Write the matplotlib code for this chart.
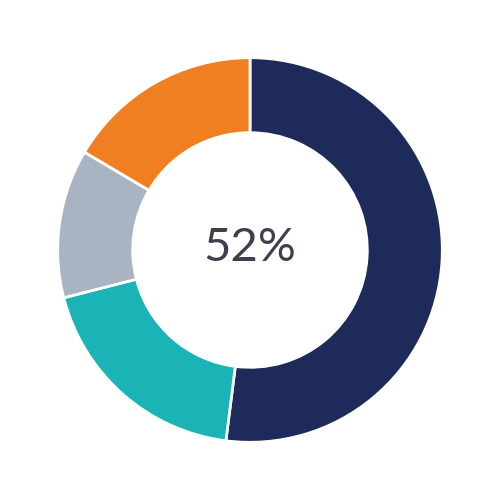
import matplotlib.pyplot as plt

shares = [52, 19, 12.5, 16.5]
colors = ['#1e2a5a', '#1ab4b6', '#a9b4c2', '#f07f22']
center_label = "52%"

fig = plt.figure(figsize=(5, 5), dpi=100)
ax = fig.add_axes([0, 0, 1, 1])
ax.pie(shares, colors=colors, startangle=90, counterclock=False,
       radius=1.0, wedgeprops=dict(width=0.39, edgecolor='white', linewidth=2))
ax.text(0, 0.01, center_label, ha='center', va='center', fontsize=34,
        family=['Lato', 'DejaVu Sans'], color='#3b404b')
ax.set_xlim(-1.3, 1.3)
ax.set_ylim(-1.3, 1.3)
ax.set_aspect('equal')
ax.axis('off')
fig.savefig('out.png', dpi=100, facecolor='white')
